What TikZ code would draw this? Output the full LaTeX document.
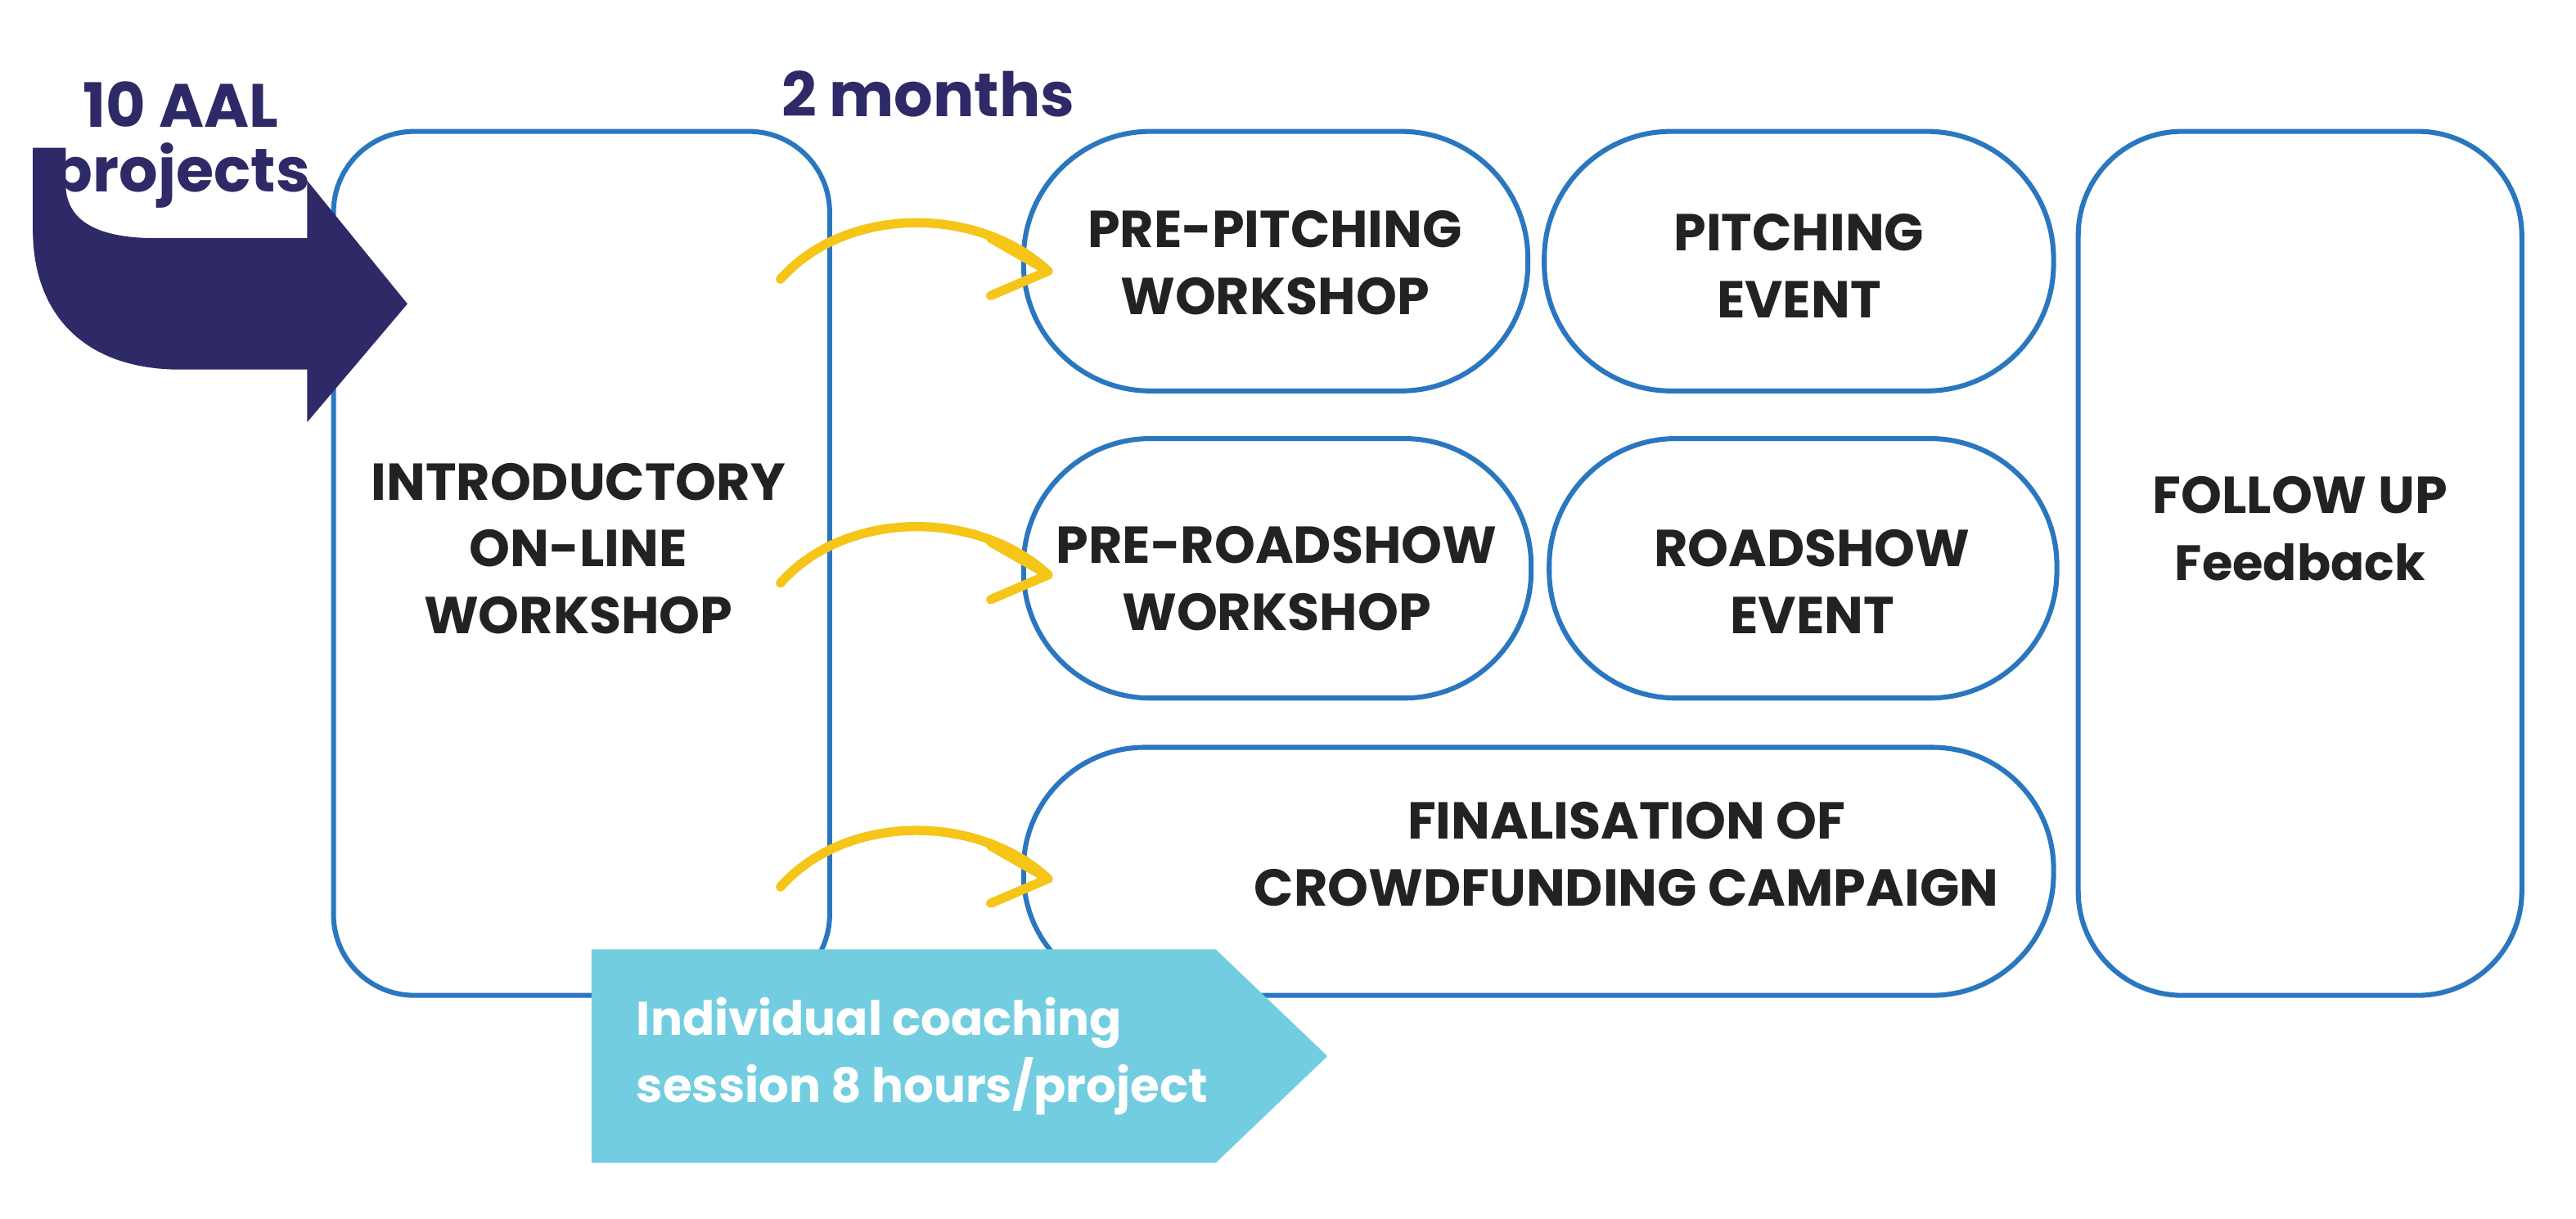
\documentclass[tikz,border=0pt]{standalone}
\usepackage{fontspec}
\setmainfont{Poppins}
\begin{document}
\begin{tikzpicture}[x=0.05cm,y=-0.05cm,
  box/.style={draw=boxblue,line width=4.3pt,fill=white},
  lab/.style={font=\fontsize{45}{58}\selectfont\bfseries,text=txt,align=center},
  yarr/.style={draw=yel,line width=8pt,line cap=round,line join=round},
  navytxt/.style={font=\fontsize{53}{56}\selectfont\bfseries,text=navy,align=center}]
\definecolor{boxblue}{HTML}{2A77C0}
\definecolor{navy}{HTML}{2E2A67}
\definecolor{yel}{HTML}{F5C518}
\definecolor{cyanb}{HTML}{72CDE0}
\definecolor{txt}{HTML}{222222}
\useasboundingbox (0,0) rectangle (1568,742);
% boxes
\draw[box,rounded corners=70pt] (203,80) rectangle (505,606);
\node[lab] (intro) at (352,334) {INTRODUCTORY\\ON-LINE\\WORKSHOP};
\draw[box,rounded corners=110pt] (623,80) rectangle (930,238);
\node[lab] (pp) at (776,160) {PRE-PITCHING\\WORKSHOP};
\draw[box,rounded corners=110pt] (940,80) rectangle (1250,238);
\node[lab] (pe) at (1095,162) {PITCHING\\EVENT};
\draw[box,rounded corners=110pt] (623,267) rectangle (932,425);
\node[lab] (pr) at (777,352) {PRE-ROADSHOW\\WORKSHOP};
\draw[box,rounded corners=110pt] (943,267) rectangle (1252,425);
\node[lab] (re) at (1103,354) {ROADSHOW\\EVENT};
\draw[box,rounded corners=105pt] (623,455) rectangle (1250,606);
\node[lab] (fc) at (990,520) {FINALISATION OF\\CROWDFUNDING CAMPAIGN};
\draw[box,rounded corners=90pt] (1265,80) rectangle (1535,606);
\node[lab] (fu) at (1400,322) {FOLLOW UP\\{\fontsize{43}{58}\selectfont Feedback}};
% dark arrow
\fill[navy] (20,90) -- (40,90) -- (40,112) .. controls (40,135) and (60,145) .. (95,145) -- (187,145) -- (187,110) -- (248,185) -- (187,257) -- (187,225) -- (110,225) .. controls (50,225) and (20,190) .. (20,140) -- cycle;
\node[navytxt] (aal) at (110,88) {10 AAL\\projects};
\node[navytxt] (mon) at (565,57) {2 months};
% yellow arrows
\foreach \y/\n in {165/a,350/b,535/c}{
  \coordinate (s\n) at (475,\y+5);
  \coordinate (e\n) at (638,\y);
  \draw[yarr] (s\n) .. controls (515,\y-40) and (595,\y-40) .. (e\n);
  \draw[yarr] (603,\y-20) -- (e\n) -- (603,\y+15);
}
% cyan arrow
\fill[cyanb] (360,578) -- (740,578) -- (808,643) -- (740,708) -- (360,708) -- cycle;
\node[font=\fontsize{41}{58}\selectfont\bfseries,text=white,align=left,anchor=west] (coach) at (385,643) {Individual coaching\\session 8 hours/project};
\end{tikzpicture}
\end{document}
